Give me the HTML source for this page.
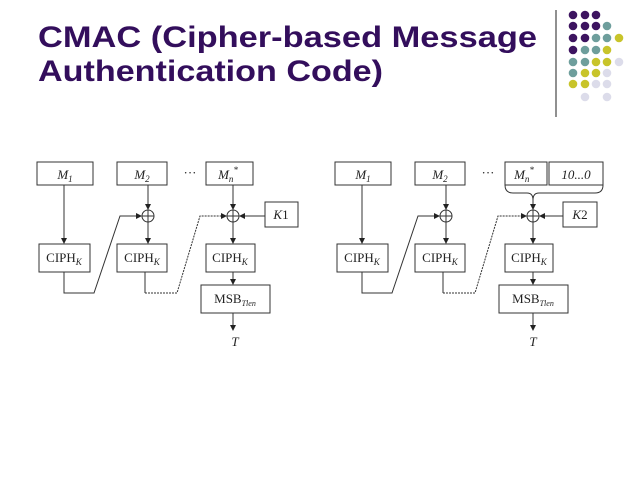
<!DOCTYPE html>
<html><head><meta charset="utf-8"><style>
html,body{margin:0;padding:0;background:#fff;}
svg{display:block;}
.t{font-family:"Liberation Serif",serif;font-size:13px;fill:#222;}
.i{font-style:italic;}
</style></head><body>
<svg width="638" height="479" viewBox="0 0 638 479">
<defs>
<marker id="a" markerWidth="6" markerHeight="6" refX="5" refY="3" orient="auto" markerUnits="userSpaceOnUse"><path d="M0,0 L6,3 L0,6 z" fill="#222"/></marker>
</defs>
<text x="38" y="47" font-family="Liberation Sans,sans-serif" font-weight="bold" font-size="30" fill="#330e5c" textLength="499" lengthAdjust="spacingAndGlyphs">CMAC (Cipher-based Message</text>
<text x="38" y="81" font-family="Liberation Sans,sans-serif" font-weight="bold" font-size="30" fill="#330e5c" textLength="345" lengthAdjust="spacingAndGlyphs">Authentication Code)</text>
<line x1="556" y1="10" x2="556" y2="117" stroke="#222" stroke-width="1"/>
<g>
<circle cx="573" cy="15" r="4.3" fill="#3d1460"/><circle cx="585" cy="15" r="4.3" fill="#3d1460"/><circle cx="596" cy="15" r="4.3" fill="#3d1460"/>
<circle cx="573" cy="26" r="4.3" fill="#3d1460"/><circle cx="585" cy="26" r="4.3" fill="#3d1460"/><circle cx="596" cy="26" r="4.3" fill="#3d1460"/><circle cx="607" cy="26" r="4.3" fill="#6e9e9c"/>
<circle cx="573" cy="38" r="4.3" fill="#3d1460"/><circle cx="585" cy="38" r="4.3" fill="#3d1460"/><circle cx="596" cy="38" r="4.3" fill="#6e9e9c"/><circle cx="607" cy="38" r="4.3" fill="#6e9e9c"/><circle cx="619" cy="38" r="4.3" fill="#c8c42a"/>
<circle cx="573" cy="50" r="4.3" fill="#3d1460"/><circle cx="585" cy="50" r="4.3" fill="#6e9e9c"/><circle cx="596" cy="50" r="4.3" fill="#6e9e9c"/><circle cx="607" cy="50" r="4.3" fill="#c8c42a"/>
<circle cx="573" cy="62" r="4.3" fill="#6e9e9c"/><circle cx="585" cy="62" r="4.3" fill="#6e9e9c"/><circle cx="596" cy="62" r="4.3" fill="#c8c42a"/><circle cx="607" cy="62" r="4.3" fill="#c8c42a"/><circle cx="619" cy="62" r="4.3" fill="#dcdcea"/>
<circle cx="573" cy="73" r="4.3" fill="#6e9e9c"/><circle cx="585" cy="73" r="4.3" fill="#c8c42a"/><circle cx="596" cy="73" r="4.3" fill="#c8c42a"/><circle cx="607" cy="73" r="4.3" fill="#dcdcea"/>
<circle cx="573" cy="84" r="4.3" fill="#c8c42a"/><circle cx="585" cy="84" r="4.3" fill="#c8c42a"/><circle cx="596" cy="84" r="4.3" fill="#dcdcea"/><circle cx="607" cy="84" r="4.3" fill="#dcdcea"/>
<circle cx="585" cy="97" r="4.3" fill="#dcdcea"/><circle cx="607" cy="97" r="4.3" fill="#dcdcea"/>
</g>

<g stroke="#333" stroke-width="1" fill="none">
<rect x="37" y="162" width="56" height="23"/>
<rect x="117" y="162" width="50" height="23"/>
<rect x="39" y="244" width="51" height="28"/>
<rect x="117" y="244" width="50" height="28"/>
<rect x="206" y="244" width="49" height="28"/>
<rect x="201" y="285" width="69" height="28"/>
<circle cx="148" cy="216" r="6"/><line x1="142" y1="216" x2="154" y2="216"/><line x1="148" y1="210" x2="148" y2="222"/>
<circle cx="233" cy="216" r="6"/><line x1="227" y1="216" x2="239" y2="216"/><line x1="233" y1="210" x2="233" y2="222"/>
<line x1="64" y1="185" x2="64" y2="243" marker-end="url(#a)"/>
<line x1="148" y1="185" x2="148" y2="209" marker-end="url(#a)"/>
<line x1="148" y1="222" x2="148" y2="243" marker-end="url(#a)"/>
<line x1="233" y1="222" x2="233" y2="243" marker-end="url(#a)"/>
<line x1="233" y1="272" x2="233" y2="284" marker-end="url(#a)"/>
<line x1="233" y1="313" x2="233" y2="330" marker-end="url(#a)"/>
<polyline points="64,272 64,293 94,293 120,216 141,216" marker-end="url(#a)"/>
<line x1="145" y1="272" x2="145" y2="293"/>
<polyline points="145,293 177,293 200,216 226,216" stroke-dasharray="2,1" marker-end="url(#a)"/>
<rect x="206" y="162" width="47" height="23"/>
<rect x="265" y="202" width="33" height="25"/>
<line x1="233" y1="185" x2="233" y2="209" marker-end="url(#a)"/>
<line x1="265" y1="216" x2="240" y2="216" marker-end="url(#a)"/>
</g>
<g class="t">
<text x="65" y="179" text-anchor="middle" class="i">M<tspan font-size="9" dy="3">1</tspan></text>
<text x="142" y="179" text-anchor="middle" class="i">M<tspan font-size="9" dy="3">2</tspan></text>
<text x="64" y="262" text-anchor="middle">CIPH<tspan font-size="9" dy="3" class="i">K</tspan></text>
<text x="142" y="262" text-anchor="middle">CIPH<tspan font-size="9" dy="3" class="i">K</tspan></text>
<text x="230" y="262" text-anchor="middle">CIPH<tspan font-size="9" dy="3" class="i">K</tspan></text>
<text x="235" y="303" text-anchor="middle">MSB<tspan font-size="8" dy="3" class="i">Tlen</tspan></text>
<text x="235" y="346" text-anchor="middle" class="i">T</text>
<text x="190" y="177" text-anchor="middle">···</text>
<text x="228" y="179" text-anchor="middle" class="i">M<tspan font-size="9" dy="3">n</tspan><tspan dy="-9" font-size="9">*</tspan></text>
<text x="281" y="219" text-anchor="middle" class="i">K<tspan font-style="normal">1</tspan></text>
</g>

<g transform="translate(298,0)">
<g stroke="#333" stroke-width="1" fill="none">
<rect x="37" y="162" width="56" height="23"/>
<rect x="117" y="162" width="50" height="23"/>
<rect x="39" y="244" width="51" height="28"/>
<rect x="117" y="244" width="50" height="28"/>
<rect x="207" y="244" width="48" height="28"/>
<rect x="201" y="285" width="69" height="28"/>
<circle cx="148" cy="216" r="6"/><line x1="142" y1="216" x2="154" y2="216"/><line x1="148" y1="210" x2="148" y2="222"/>
<circle cx="235" cy="216" r="6"/><line x1="229" y1="216" x2="241" y2="216"/><line x1="235" y1="210" x2="235" y2="222"/>
<line x1="64" y1="185" x2="64" y2="243" marker-end="url(#a)"/>
<line x1="148" y1="185" x2="148" y2="209" marker-end="url(#a)"/>
<line x1="148" y1="222" x2="148" y2="243" marker-end="url(#a)"/>
<line x1="235" y1="222" x2="235" y2="243" marker-end="url(#a)"/>
<line x1="235" y1="272" x2="235" y2="284" marker-end="url(#a)"/>
<line x1="235" y1="313" x2="235" y2="330" marker-end="url(#a)"/>
<polyline points="64,272 64,293 94,293 120,216 141,216" marker-end="url(#a)"/>
<line x1="145" y1="272" x2="145" y2="293"/>
<polyline points="145,293 177,293 200,216 228,216" stroke-dasharray="2,1" marker-end="url(#a)"/>
<rect x="207" y="162" width="42" height="23"/>
<rect x="251" y="162" width="54" height="23"/>
<rect x="265" y="202" width="34" height="25"/>
<path d="M207,185 Q207,193 215,193 L229,193 Q235,193 235,200 Q235,193 241,193 L297,193 Q305,193 305,185"/>
<line x1="235" y1="199" x2="235" y2="209" marker-end="url(#a)"/>
<line x1="265" y1="216" x2="242" y2="216" marker-end="url(#a)"/>
</g>
<g class="t">
<text x="65" y="179" text-anchor="middle" class="i">M<tspan font-size="9" dy="3">1</tspan></text>
<text x="142" y="179" text-anchor="middle" class="i">M<tspan font-size="9" dy="3">2</tspan></text>
<text x="64" y="262" text-anchor="middle">CIPH<tspan font-size="9" dy="3" class="i">K</tspan></text>
<text x="142" y="262" text-anchor="middle">CIPH<tspan font-size="9" dy="3" class="i">K</tspan></text>
<text x="231" y="262" text-anchor="middle">CIPH<tspan font-size="9" dy="3" class="i">K</tspan></text>
<text x="235" y="303" text-anchor="middle">MSB<tspan font-size="8" dy="3" class="i">Tlen</tspan></text>
<text x="235" y="346" text-anchor="middle" class="i">T</text>
<text x="190" y="177" text-anchor="middle">···</text>
<text x="226" y="179" text-anchor="middle" class="i">M<tspan font-size="9" dy="3">n</tspan><tspan dy="-9" font-size="9">*</tspan></text>
<text x="278" y="179" text-anchor="middle" class="i">10...0</text>
<text x="282" y="219" text-anchor="middle" class="i">K<tspan font-style="normal">2</tspan></text>
</g>
</g>
</svg>
</body></html>
